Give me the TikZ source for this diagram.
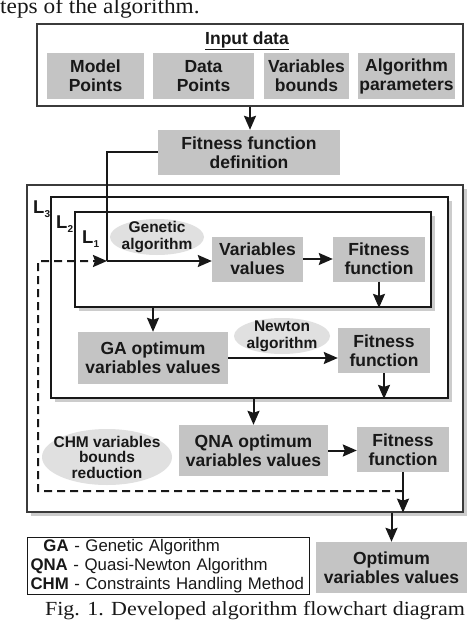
\documentclass[tikz,border=0pt]{standalone}
\usepackage{fontspec}
\setmainfont{Liberation Serif}
\setsansfont{Liberation Sans}
\usetikzlibrary{arrows.meta,shadows,shapes.geometric,calc}
\definecolor{boxgray}{RGB}{196,196,196}
\definecolor{ellgray}{RGB}{224,224,224}
\definecolor{ink}{RGB}{24,24,24}
\begin{document}
\begin{tikzpicture}[x=1pt,y=-1pt,
  gbox/.style={rectangle, fill=boxgray, draw=none, font=\sffamily\bfseries\fontsize{17.5}{19}\selectfont, text=ink, align=center, inner sep=0pt},
  ellshape/.style={ellipse, fill=ellgray, draw=none, inner sep=0pt},
  elltext/.style={font=\sffamily\bfseries\fontsize{15.5}{17}\selectfont, text=ink, align=center, inner sep=0pt},
  frame/.style={rectangle, draw=ink, line width=1.8pt, fill=white, inner sep=0pt, drop shadow={shadow xshift=4pt, shadow yshift=-4pt, opacity=0.4}},
  tip/.style={-{Stealth[length=14pt,width=12pt,inset=2pt]}},
  arr/.style={draw=ink, line width=2pt, tip},
  conn/.style={draw=ink, line width=2pt},
  dsh/.style={draw=ink, line width=2pt, dash pattern=on 8pt off 5pt},
  lab/.style={font=\sffamily\bfseries\fontsize{18.5}{18.5}\selectfont, text=ink, inner sep=0pt, anchor=base west}
]
\useasboundingbox (0,0) rectangle (474,620);

% top text (cut off in the reference)
\node[anchor=base west, inner sep=0pt, font=\fontsize{22}{22}\selectfont, text=ink] (toptext) at (0,14) {\scalebox{1.06}[1]{teps of the algorithm.}};

% input data block
\node[rectangle, draw=ink!85, line width=1.3pt, minimum width=426pt, minimum height=82pt, inner sep=0pt] (input) at (250,65) {};
\node[font=\sffamily\bfseries\fontsize{17.5}{17.5}\selectfont, text=ink, inner sep=0pt] (inlabel) at (247,41) {\underline{Input data}};
\node[gbox, minimum width=97pt, minimum height=46pt] (model) at (95.5,76) {Model\\Points};
\node[gbox, minimum width=101pt, minimum height=46pt] (datap) at (203.5,76) {Data\\Points};
\node[gbox, minimum width=85pt, minimum height=46pt] (varb) at (306.5,76) {Variables\\bounds};
\node[gbox, minimum width=97pt, minimum height=46pt] (algp) at (406.5,76) {Algorithm\\parameters};

\node[gbox, minimum width=182pt, minimum height=45pt] (ffd) at (249,152.5) {Fitness function\\definition};
\draw[arr] (input.south) -- (input.south |- ffd.north);

% frames
\node[frame, line width=1.3pt, draw=ink!85, minimum width=436pt, minimum height=327pt] (L3) at (245,348.5) {};
\node[frame, minimum width=397pt, minimum height=201pt] (L2) at (249.5,297.5) {};
\node[frame, minimum width=356pt, minimum height=95pt] (L1) at (253,259.5) {};

\node[lab] (l3lab) at (33,213) {L\raisebox{-5pt}{\fontsize{10}{10}\selectfont 3}};
\node[lab] (l2lab) at (56,228) {L\raisebox{-5pt}{\fontsize{10}{10}\selectfont 2}};
\node[lab] (l1lab) at (82,243) {L\raisebox{-5pt}{\fontsize{10}{10}\selectfont 1}};

% level 1
\node[ellshape, minimum width=94pt, minimum height=36pt] (ga) at (157,237) {};
\node[elltext] (gatext) at (ga) {Genetic\\algorithm};
\node[gbox, minimum width=91pt, minimum height=45pt] (varv) at (257.5,259) {Variables\\values};
\node[gbox, minimum width=92pt, minimum height=45pt] (ff1) at (379,259) {Fitness\\function};
\draw[arr] (varv.east) -- (ff1.west);
\draw[arr] (ff1.south) -- (ff1.south |- L1.south);

% level 2
\node[gbox, minimum width=150pt, minimum height=52pt] (gaopt) at (153,358) {GA optimum\\variables values};
\node[ellshape, minimum width=96pt, minimum height=36pt] (newton) at (282,336) {};
\node[elltext] (newtontext) at (newton) {Newton\\algorithm};
\node[gbox, minimum width=92pt, minimum height=45pt] (ff2) at (384,350.5) {Fitness\\function};
\draw[arr] (gaopt.north |- L1.south) -- (gaopt.north);
\draw[arr] (gaopt.east) -- (gaopt.east -| ff2.west);
\draw[arr] (ff2.south) -- (ff2.south |- L2.south);

% level 3
\node[gbox, minimum width=149pt, minimum height=51pt] (qna) at (253.5,450.5) {QNA optimum\\variables values};
\node[gbox, minimum width=92pt, minimum height=45pt] (ff3) at (403,449.5) {Fitness\\function};
\node[ellshape, minimum width=130pt, minimum height=56pt] (chm) at (107,457) {};
\node[elltext, font=\sffamily\bfseries\fontsize{15.5}{15.5}\selectfont] (chmtext) at (chm) {CHM variables\\bounds\\reduction};
\draw[arr] (qna.north |- L2.south) -- (qna.north);
\draw[arr] (qna.east) -- (qna.east -| ff3.west);
\draw[arr] (ff3.south) -- (ff3.south |- L3.south);

% fitness definition feed and dashed feedback
\coordinate (j) at (107,261);
\draw[conn] (ffd.west) -| (j);
\draw[arr] (j) -- (j -| varv.west);
\path (ff3.south) ++(0,19) coordinate (dr);
\coordinate (dl) at (38,491);
\draw[dsh, tip] (dr) -- (dl) -- (dl |- j) -- (j);

% output
\node[gbox, minimum width=151pt, minimum height=51pt] (opt) at (391.5,567.5) {Optimum\\variables values};
\draw[arr] (opt.north |- L3.south) -- (opt.north);

% legend
\node[rectangle, draw=ink, line width=1pt, anchor=north west, minimum width=282pt, minimum height=57pt, text width=276pt, align=left, inner xsep=3pt, inner ysep=0pt, font=\sffamily\fontsize{16.8}{19}\selectfont, text=ink] (legend) at (27,537) {\hspace*{13pt}\textbf{GA} - Genetic Algorithm\\\textbf{QNA} - Quasi-Newton Algorithm\\\textbf{CHM} - Constraints Handling Method};

% caption
\node[anchor=base, inner sep=0pt, font=\fontsize{20}{20}\selectfont, text=ink] (caption) at (255,615) {\scalebox{1.1}[1]{Fig. 1. Developed algorithm flowchart diagram}};
\end{tikzpicture}
\end{document}
